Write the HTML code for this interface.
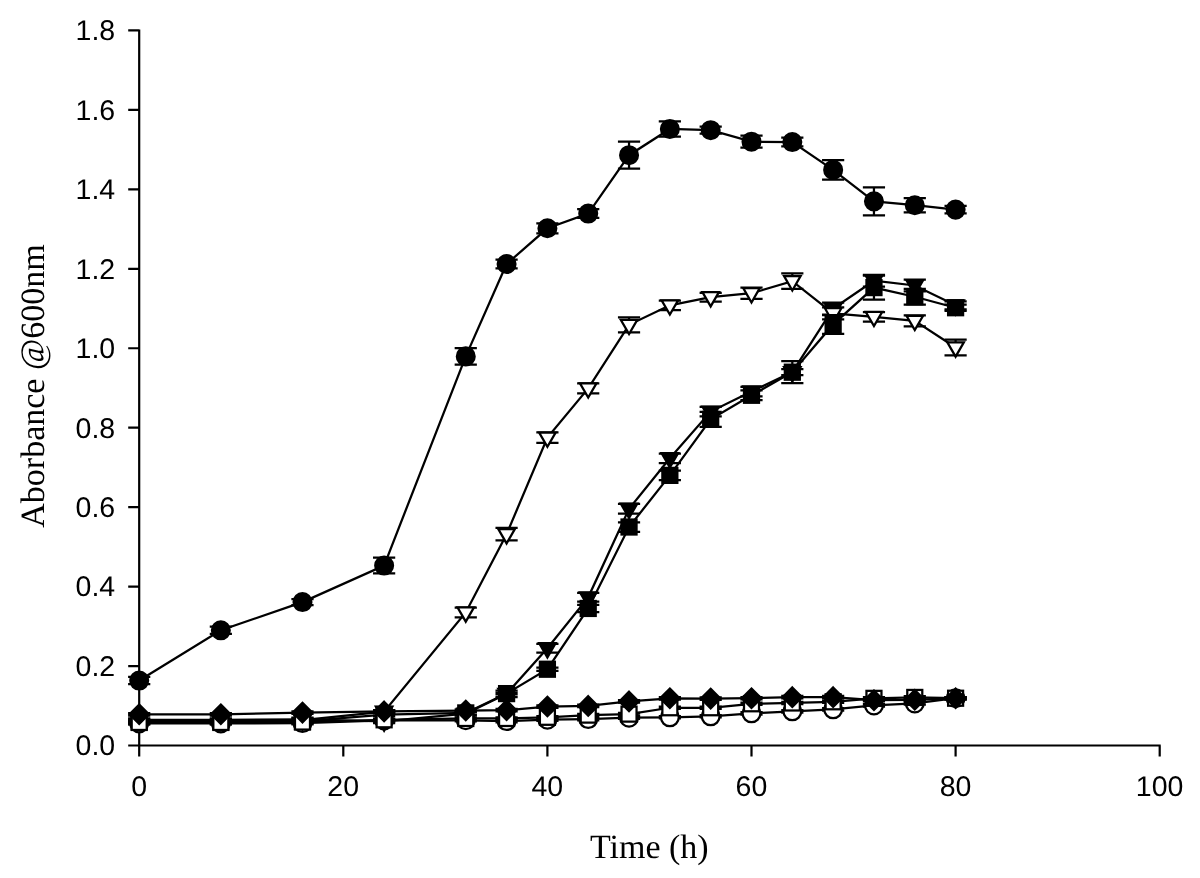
<!DOCTYPE html>
<html><head><meta charset="utf-8"><title>Growth curve</title>
<style>
html,body{margin:0;padding:0;background:#fff;}
body{width:1200px;height:878px;overflow:hidden;}
svg{display:block;}
.tk{font-family:"Liberation Sans",Arial,sans-serif;font-size:28.5px;fill:#000;text-rendering:geometricPrecision;}
.tt{font-family:"Liberation Serif","Times New Roman",serif;font-size:34px;fill:#000;text-rendering:geometricPrecision;}
</style></head><body>
<svg width="1200" height="878" viewBox="0 0 1200 878">
<rect width="1200" height="878" fill="#fff"/>
<g stroke="#000" stroke-width="2.2"><path fill="none" stroke-linecap="butt" d="M139.2 29.45V756.5M128.2 745.5H1160.7M128.2 666.05H139.2M128.2 586.6H139.2M128.2 507.15H139.2M128.2 427.7H139.2M128.2 348.25H139.2M128.2 268.8H139.2M128.2 189.35H139.2M128.2 109.9H139.2M128.2 30.45H139.2M343.3 745.5V756.5M547.4 745.5V756.5M751.5 745.5V756.5M955.6 745.5V756.5M1159.7 745.5V756.5"/></g>
<g stroke="#000" stroke-width="2.25" stroke-linejoin="miter">
<g>
<polyline fill="none" points="139.2,680.55 220.84,630.3 302.48,602.09 384.12,565.55 465.76,356.39 506.58,264.03 547.4,228.28 588.22,213.58 629.04,155.19 669.86,128.97 710.68,130.16 751.5,141.68 792.32,142.08 833.14,169.88 873.96,201.35 914.78,205.24 955.6,209.61"/>
<path fill="none" d="M139.2 676.97V684.12M128.1 676.97H150.3M128.1 684.12H150.3M220.84 626.72V633.87M209.74 626.72H231.94M209.74 633.87H231.94M302.48 599.11V605.07M291.38 599.11H313.58M291.38 605.07H313.58M384.12 557.6V573.49M373.02 557.6H395.22M373.02 573.49H395.22M465.76 348.05V364.74M454.66 348.05H476.86M454.66 364.74H476.86M506.58 259.66V268.4M495.48 259.66H517.68M495.48 268.4H517.68M547.4 223.31V233.25M536.3 223.31H558.5M536.3 233.25H558.5M588.22 209.21V217.95M577.12 209.21H599.32M577.12 217.95H599.32M629.04 141.68V168.69M617.94 141.68H640.14M617.94 168.69H640.14M669.86 121.42V136.52M658.76 121.42H680.96M658.76 136.52H680.96M710.68 126.58V133.74M699.58 126.58H721.78M699.58 133.74H721.78M751.5 135.72V147.64M740.4 135.72H762.6M740.4 147.64H762.6M792.32 137.71V146.45M781.22 137.71H803.42M781.22 146.45H803.42M833.14 160.15V179.62M822.04 160.15H844.24M822.04 179.62H844.24M873.96 187.44V215.25M862.86 187.44H885.06M862.86 215.25H885.06M914.78 198.09V212.39M903.68 198.09H925.88M903.68 212.39H925.88M955.6 205.84V213.38M944.5 205.84H966.7M944.5 213.38H966.7"/>
<circle cx="139.2" cy="680.55" r="8.9" fill="#000"/>
<circle cx="220.84" cy="630.3" r="8.9" fill="#000"/>
<circle cx="302.48" cy="602.09" r="8.9" fill="#000"/>
<circle cx="384.12" cy="565.55" r="8.9" fill="#000"/>
<circle cx="465.76" cy="356.39" r="8.9" fill="#000"/>
<circle cx="506.58" cy="264.03" r="8.9" fill="#000"/>
<circle cx="547.4" cy="228.28" r="8.9" fill="#000"/>
<circle cx="588.22" cy="213.58" r="8.9" fill="#000"/>
<circle cx="629.04" cy="155.19" r="8.9" fill="#000"/>
<circle cx="669.86" cy="128.97" r="8.9" fill="#000"/>
<circle cx="710.68" cy="130.16" r="8.9" fill="#000"/>
<circle cx="751.5" cy="141.68" r="8.9" fill="#000"/>
<circle cx="792.32" cy="142.08" r="8.9" fill="#000"/>
<circle cx="833.14" cy="169.88" r="8.9" fill="#000"/>
<circle cx="873.96" cy="201.35" r="8.9" fill="#000"/>
<circle cx="914.78" cy="205.24" r="8.9" fill="#000"/>
<circle cx="955.6" cy="209.61" r="8.9" fill="#000"/>
</g>
<g>
<polyline fill="none" points="139.2,723.45 220.84,723.45 302.48,723.06 384.12,720.47 465.76,720.27 506.58,721.07 547.4,719.68 588.22,719.08 629.04,717.69 669.86,717.3 710.68,716.3 751.5,713.32 792.32,711.34 833.14,709.35 873.96,705.38 914.78,703.39 955.6,698.23"/>
<path fill="none" d="M139.2 722.26V724.64M128.1 722.26H150.3M128.1 724.64H150.3M220.84 722.26V724.64M209.74 722.26H231.94M209.74 724.64H231.94M302.48 721.86V724.25M291.38 721.86H313.58M291.38 724.25H313.58M384.12 719.28V721.66M373.02 719.28H395.22M373.02 721.66H395.22M465.76 719.08V721.47M454.66 719.08H476.86M454.66 721.47H476.86M506.58 719.88V722.26M495.48 719.88H517.68M495.48 722.26H517.68M547.4 718.49V720.87M536.3 718.49H558.5M536.3 720.87H558.5M588.22 717.89V720.27M577.12 717.89H599.32M577.12 720.27H599.32M629.04 716.5V718.88M617.94 716.5H640.14M617.94 718.88H640.14M669.86 716.1V718.49M658.76 716.1H680.96M658.76 718.49H680.96M710.68 715.11V717.49M699.58 715.11H721.78M699.58 717.49H721.78M751.5 712.13V714.51M740.4 712.13H762.6M740.4 714.51H762.6M792.32 710.14V712.53M781.22 710.14H803.42M781.22 712.53H803.42M833.14 708.16V710.54M822.04 708.16H844.24M822.04 710.54H844.24M873.96 704.19V706.57M862.86 704.19H885.06M862.86 706.57H885.06M914.78 702.2V704.58M903.68 702.2H925.88M903.68 704.58H925.88M955.6 697.04V699.42M944.5 697.04H966.7M944.5 699.42H966.7"/>
<circle cx="139.2" cy="723.45" r="8.9" fill="#fff"/>
<circle cx="220.84" cy="723.45" r="8.9" fill="#fff"/>
<circle cx="302.48" cy="723.06" r="8.9" fill="#fff"/>
<circle cx="384.12" cy="720.47" r="8.9" fill="#fff"/>
<circle cx="465.76" cy="720.27" r="8.9" fill="#fff"/>
<circle cx="506.58" cy="721.07" r="8.9" fill="#fff"/>
<circle cx="547.4" cy="719.68" r="8.9" fill="#fff"/>
<circle cx="588.22" cy="719.08" r="8.9" fill="#fff"/>
<circle cx="629.04" cy="717.69" r="8.9" fill="#fff"/>
<circle cx="669.86" cy="717.3" r="8.9" fill="#fff"/>
<circle cx="710.68" cy="716.3" r="8.9" fill="#fff"/>
<circle cx="751.5" cy="713.32" r="8.9" fill="#fff"/>
<circle cx="792.32" cy="711.34" r="8.9" fill="#fff"/>
<circle cx="833.14" cy="709.35" r="8.9" fill="#fff"/>
<circle cx="873.96" cy="705.38" r="8.9" fill="#fff"/>
<circle cx="914.78" cy="703.39" r="8.9" fill="#fff"/>
<circle cx="955.6" cy="698.23" r="8.9" fill="#fff"/>
</g>
<g>
<polyline fill="none" points="139.2,719.88 220.84,719.88 302.48,719.28 384.12,721.43 465.76,713.72 506.58,693.86 547.4,648.17 588.22,597.33 629.04,508.74 669.86,458.29 710.68,411.61 751.5,391.55 792.32,372.09 833.14,308.64 873.96,280.72 914.78,285.48 955.6,305.35"/>
<path fill="none" d="M139.2 718.29V721.47M128.1 718.29H150.3M128.1 721.47H150.3M220.84 718.29V721.47M209.74 718.29H231.94M209.74 721.47H231.94M302.48 717.69V720.87M291.38 717.69H313.58M291.38 720.87H313.58M384.12 719.84V723.02M373.02 719.84H395.22M373.02 723.02H395.22M465.76 712.13V715.31M454.66 712.13H476.86M454.66 715.31H476.86M506.58 690.68V697.04M495.48 690.68H517.68M495.48 697.04H517.68M547.4 643.8V652.54M536.3 643.8H558.5M536.3 652.54H558.5M588.22 592.96V601.7M577.12 592.96H599.32M577.12 601.7H599.32M629.04 503.97V513.51M617.94 503.97H640.14M617.94 513.51H640.14M669.86 453.52V463.06M658.76 453.52H680.96M658.76 463.06H680.96M710.68 406.84V416.38M699.58 406.84H721.78M699.58 416.38H721.78M751.5 386.78V396.32M740.4 386.78H762.6M740.4 396.32H762.6M792.32 369.03V375.14M781.22 369.03H803.42M781.22 375.14H803.42M833.14 302.69V314.6M822.04 302.69H844.24M822.04 314.6H844.24M873.96 274.76V286.68M862.86 274.76H885.06M862.86 286.68H885.06M914.78 279.53V291.44M903.68 279.53H925.88M903.68 291.44H925.88M955.6 301.37V309.32M944.5 301.37H966.7M944.5 309.32H966.7"/>
<path d="M130.95 714.81L147.45 714.81L139.2 729.1Z" fill="#000"/>
<path d="M212.59 714.81L229.09 714.81L220.84 729.1Z" fill="#000"/>
<path d="M294.23 714.22L310.73 714.22L302.48 728.51Z" fill="#000"/>
<path d="M375.87 716.36L392.37 716.36L384.12 730.65Z" fill="#000"/>
<path d="M457.51 708.66L474.01 708.66L465.76 722.95Z" fill="#000"/>
<path d="M498.33 688.79L514.83 688.79L506.58 703.08Z" fill="#000"/>
<path d="M539.15 643.11L555.65 643.11L547.4 657.4Z" fill="#000"/>
<path d="M579.97 592.26L596.47 592.26L588.22 606.55Z" fill="#000"/>
<path d="M620.79 503.68L637.29 503.68L629.04 517.97Z" fill="#000"/>
<path d="M661.61 453.23L678.11 453.23L669.86 467.51Z" fill="#000"/>
<path d="M702.43 406.55L718.93 406.55L710.68 420.84Z" fill="#000"/>
<path d="M743.25 386.49L759.75 386.49L751.5 400.78Z" fill="#000"/>
<path d="M784.07 367.02L800.57 367.02L792.32 381.31Z" fill="#000"/>
<path d="M824.89 303.58L841.39 303.58L833.14 317.87Z" fill="#000"/>
<path d="M865.71 275.65L882.21 275.65L873.96 289.94Z" fill="#000"/>
<path d="M906.53 280.42L923.03 280.42L914.78 294.71Z" fill="#000"/>
<path d="M947.35 300.28L963.85 300.28L955.6 314.57Z" fill="#000"/>
</g>
<g>
<polyline fill="none" points="139.2,720.87 220.84,720.87 302.48,720.08 384.12,711.73 465.76,612.42 506.58,534.16 547.4,437.63 588.22,388.37 629.04,324.81 669.86,305.35 710.68,297.2 751.5,293.23 792.32,281.23 833.14,313.29 873.96,316.87 914.78,320.84 955.6,347.46"/>
<path fill="none" d="M139.2 719.28V722.46M128.1 719.28H150.3M128.1 722.46H150.3M220.84 719.28V722.46M209.74 719.28H231.94M209.74 722.46H231.94M302.48 718.49V721.67M291.38 718.49H313.58M291.38 721.67H313.58M384.12 710.14V713.32M373.02 710.14H395.22M373.02 713.32H395.22M465.76 607.54V617.31M454.66 607.54H476.86M454.66 617.31H476.86M506.58 527.93V540.4M495.48 527.93H517.68M495.48 540.4H517.68M547.4 432.39V442.87M536.3 432.39H558.5M536.3 442.87H558.5M588.22 383.45V393.3M577.12 383.45H599.32M577.12 393.3H599.32M629.04 317.26V332.36M617.94 317.26H640.14M617.94 332.36H640.14M669.86 300.58V310.11M658.76 300.58H680.96M658.76 310.11H680.96M710.68 292.83V301.57M699.58 292.83H721.78M699.58 301.57H721.78M751.5 287.67V298.79M740.4 287.67H762.6M740.4 298.79H762.6M792.32 273.49V288.98M781.22 273.49H803.42M781.22 288.98H803.42M833.14 307.33V319.25M822.04 307.33H844.24M822.04 319.25H844.24M873.96 312.1V321.63M862.86 312.1H885.06M862.86 321.63H885.06M914.78 315.28V326.4M903.68 315.28H925.88M903.68 326.4H925.88M955.6 339.51V355.4M944.5 339.51H966.7M944.5 355.4H966.7"/>
<path d="M130.95 715.81L147.45 715.81L139.2 730.1Z" fill="#fff"/>
<path d="M212.59 715.81L229.09 715.81L220.84 730.1Z" fill="#fff"/>
<path d="M294.23 715.01L310.73 715.01L302.48 729.3Z" fill="#fff"/>
<path d="M375.87 706.67L392.37 706.67L384.12 720.96Z" fill="#fff"/>
<path d="M457.51 607.36L474.01 607.36L465.76 621.65Z" fill="#fff"/>
<path d="M498.33 529.1L514.83 529.1L506.58 543.39Z" fill="#fff"/>
<path d="M539.15 432.57L555.65 432.57L547.4 446.86Z" fill="#fff"/>
<path d="M579.97 383.31L596.47 383.31L588.22 397.6Z" fill="#fff"/>
<path d="M620.79 319.75L637.29 319.75L629.04 334.04Z" fill="#fff"/>
<path d="M661.61 300.28L678.11 300.28L669.86 314.57Z" fill="#fff"/>
<path d="M702.43 292.14L718.93 292.14L710.68 306.43Z" fill="#fff"/>
<path d="M743.25 288.17L759.75 288.17L751.5 302.46Z" fill="#fff"/>
<path d="M784.07 276.17L800.57 276.17L792.32 290.46Z" fill="#fff"/>
<path d="M824.89 308.23L841.39 308.23L833.14 322.52Z" fill="#fff"/>
<path d="M865.71 311.8L882.21 311.8L873.96 326.09Z" fill="#fff"/>
<path d="M906.53 315.78L923.03 315.78L914.78 330.07Z" fill="#fff"/>
<path d="M947.35 342.39L963.85 342.39L955.6 356.68Z" fill="#fff"/>
</g>
<g>
<polyline fill="none" points="139.2,721.86 220.84,721.86 302.48,721.47 384.12,714.51 465.76,712.93 506.58,693.62 547.4,669.23 588.22,608.45 629.04,527.01 669.86,475.37 710.68,419.36 751.5,395.28 792.32,372.2 833.14,324.41 873.96,287.59 914.78,296.73 955.6,307.73"/>
<path fill="none" d="M139.2 720.27V723.45M128.1 720.27H150.3M128.1 723.45H150.3M220.84 720.27V723.45M209.74 720.27H231.94M209.74 723.45H231.94M302.48 719.88V723.06M291.38 719.88H313.58M291.38 723.06H313.58M384.12 712.93V716.1M373.02 712.93H395.22M373.02 716.1H395.22M465.76 711.34V714.51M454.66 711.34H476.86M454.66 714.51H476.86M506.58 692.82V694.41M495.48 692.82H517.68M495.48 694.41H517.68M547.4 667.64V670.82M536.3 667.64H558.5M536.3 670.82H558.5M588.22 604.87V612.02M577.12 604.87H599.32M577.12 612.02H599.32M629.04 522.25V531.78M617.94 522.25H640.14M617.94 531.78H640.14M669.86 470.6V480.14M658.76 470.6H680.96M658.76 480.14H680.96M710.68 411.93V426.79M699.58 411.93H721.78M699.58 426.79H721.78M751.5 390.36V400.21M740.4 390.36H762.6M740.4 400.21H762.6M792.32 361.2V383.21M781.22 361.2H803.42M781.22 383.21H803.42M833.14 315.08V333.75M822.04 315.08H844.24M822.04 333.75H844.24M873.96 275.67V299.51M862.86 275.67H885.06M862.86 299.51H885.06M914.78 288.78V304.67M903.68 288.78H925.88M903.68 304.67H925.88M955.6 304.55V310.91M944.5 304.55H966.7M944.5 310.91H966.7"/>
<rect x="131.7" y="714.36" width="15" height="15" fill="#000"/>
<rect x="213.34" y="714.36" width="15" height="15" fill="#000"/>
<rect x="294.98" y="713.97" width="15" height="15" fill="#000"/>
<rect x="376.62" y="707.01" width="15" height="15" fill="#000"/>
<rect x="458.26" y="705.43" width="15" height="15" fill="#000"/>
<rect x="499.08" y="686.12" width="15" height="15" fill="#000"/>
<rect x="539.9" y="661.73" width="15" height="15" fill="#000"/>
<rect x="580.72" y="600.95" width="15" height="15" fill="#000"/>
<rect x="621.54" y="519.51" width="15" height="15" fill="#000"/>
<rect x="662.36" y="467.87" width="15" height="15" fill="#000"/>
<rect x="703.18" y="411.86" width="15" height="15" fill="#000"/>
<rect x="744" y="387.78" width="15" height="15" fill="#000"/>
<rect x="784.82" y="364.7" width="15" height="15" fill="#000"/>
<rect x="825.64" y="316.91" width="15" height="15" fill="#000"/>
<rect x="866.46" y="280.09" width="15" height="15" fill="#000"/>
<rect x="907.28" y="289.23" width="15" height="15" fill="#000"/>
<rect x="948.1" y="300.23" width="15" height="15" fill="#000"/>
</g>
<g>
<polyline fill="none" points="139.2,722.46 220.84,722.46 302.48,722.06 384.12,719.8 465.76,718.49 506.58,718.49 547.4,717.3 588.22,715.11 629.04,714.12 669.86,707.76 710.68,707.76 751.5,703.79 792.32,702.99 833.14,701.8 873.96,698.35 914.78,697.43 955.6,698.23"/>
<path fill="none" d="M139.2 721.27V723.65M128.1 721.27H150.3M128.1 723.65H150.3M220.84 721.27V723.65M209.74 721.27H231.94M209.74 723.65H231.94M302.48 720.87V723.25M291.38 720.87H313.58M291.38 723.25H313.58M384.12 718.61V720.99M373.02 718.61H395.22M373.02 720.99H395.22M465.76 717.3V719.68M454.66 717.3H476.86M454.66 719.68H476.86M506.58 717.3V719.68M495.48 717.3H517.68M495.48 719.68H517.68M547.4 716.1V718.49M536.3 716.1H558.5M536.3 718.49H558.5M588.22 713.92V716.3M577.12 713.92H599.32M577.12 716.3H599.32M629.04 712.93V715.31M617.94 712.93H640.14M617.94 715.31H640.14M669.86 706.57V708.95M658.76 706.57H680.96M658.76 708.95H680.96M710.68 706.57V708.95M699.58 706.57H721.78M699.58 708.95H721.78M751.5 702.6V704.98M740.4 702.6H762.6M740.4 704.98H762.6M792.32 701.8V704.19M781.22 701.8H803.42M781.22 704.19H803.42M833.14 700.61V702.99M822.04 700.61H844.24M822.04 702.99H844.24M873.96 697.15V699.54M862.86 697.15H885.06M862.86 699.54H885.06M914.78 696.24V698.62M903.68 696.24H925.88M903.68 698.62H925.88M955.6 697.04V699.42M944.5 697.04H966.7M944.5 699.42H966.7"/>
<rect x="131.7" y="714.96" width="15" height="15" fill="#fff"/>
<rect x="213.34" y="714.96" width="15" height="15" fill="#fff"/>
<rect x="294.98" y="714.56" width="15" height="15" fill="#fff"/>
<rect x="376.62" y="712.3" width="15" height="15" fill="#fff"/>
<rect x="458.26" y="710.99" width="15" height="15" fill="#fff"/>
<rect x="499.08" y="710.99" width="15" height="15" fill="#fff"/>
<rect x="539.9" y="709.8" width="15" height="15" fill="#fff"/>
<rect x="580.72" y="707.61" width="15" height="15" fill="#fff"/>
<rect x="621.54" y="706.62" width="15" height="15" fill="#fff"/>
<rect x="662.36" y="700.26" width="15" height="15" fill="#fff"/>
<rect x="703.18" y="700.26" width="15" height="15" fill="#fff"/>
<rect x="744" y="696.29" width="15" height="15" fill="#fff"/>
<rect x="784.82" y="695.49" width="15" height="15" fill="#fff"/>
<rect x="825.64" y="694.3" width="15" height="15" fill="#fff"/>
<rect x="866.46" y="690.85" width="15" height="15" fill="#fff"/>
<rect x="907.28" y="689.93" width="15" height="15" fill="#fff"/>
<rect x="948.1" y="690.73" width="15" height="15" fill="#fff"/>
</g>
<g>
<polyline fill="none" points="139.2,714.32 220.84,714.32 302.48,712.61 384.12,711.38 465.76,710.54 506.58,710.14 547.4,706.57 588.22,705.89 629.04,701.41 669.86,698.31 710.68,698.62 751.5,698.23 792.32,697.15 833.14,697.15 873.96,700.21 914.78,699.82 955.6,698.23"/>
<path fill="none" d="M139.2 713.12V715.51M128.1 713.12H150.3M128.1 715.51H150.3M220.84 713.12V715.51M209.74 713.12H231.94M209.74 715.51H231.94M302.48 711.42V713.8M291.38 711.42H313.58M291.38 713.8H313.58M384.12 710.18V712.57M373.02 710.18H395.22M373.02 712.57H395.22M465.76 709.35V711.73M454.66 709.35H476.86M454.66 711.73H476.86M506.58 708.95V711.34M495.48 708.95H517.68M495.48 711.34H517.68M547.4 705.38V707.76M536.3 705.38H558.5M536.3 707.76H558.5M588.22 704.7V707.09M577.12 704.7H599.32M577.12 707.09H599.32M629.04 700.21V702.6M617.94 700.21H640.14M617.94 702.6H640.14M669.86 697.11V699.5M658.76 697.11H680.96M658.76 699.5H680.96M710.68 697.43V699.82M699.58 697.43H721.78M699.58 699.82H721.78M751.5 697.04V699.42M740.4 697.04H762.6M740.4 699.42H762.6M792.32 695.96V698.35M781.22 695.96H803.42M781.22 698.35H803.42M833.14 695.96V698.35M822.04 695.96H844.24M822.04 698.35H844.24M873.96 699.02V701.41M862.86 699.02H885.06M862.86 701.41H885.06M914.78 698.62V701.01M903.68 698.62H925.88M903.68 701.01H925.88M955.6 697.04V699.42M944.5 697.04H966.7M944.5 699.42H966.7"/>
<path d="M139.2 704.62L148.9 714.32L139.2 724.02L129.5 714.32Z" fill="#000"/>
<path d="M220.84 704.62L230.54 714.32L220.84 724.02L211.14 714.32Z" fill="#000"/>
<path d="M302.48 702.91L312.18 712.61L302.48 722.31L292.78 712.61Z" fill="#000"/>
<path d="M384.12 701.68L393.82 711.38L384.12 721.08L374.42 711.38Z" fill="#000"/>
<path d="M465.76 700.84L475.46 710.54L465.76 720.24L456.06 710.54Z" fill="#000"/>
<path d="M506.58 700.44L516.28 710.14L506.58 719.84L496.88 710.14Z" fill="#000"/>
<path d="M547.4 696.87L557.1 706.57L547.4 716.27L537.7 706.57Z" fill="#000"/>
<path d="M588.22 696.19L597.92 705.89L588.22 715.59L578.52 705.89Z" fill="#000"/>
<path d="M629.04 691.71L638.74 701.41L629.04 711.11L619.34 701.41Z" fill="#000"/>
<path d="M669.86 688.61L679.56 698.31L669.86 708.01L660.16 698.31Z" fill="#000"/>
<path d="M710.68 688.92L720.38 698.62L710.68 708.32L700.98 698.62Z" fill="#000"/>
<path d="M751.5 688.53L761.2 698.23L751.5 707.93L741.8 698.23Z" fill="#000"/>
<path d="M792.32 687.45L802.02 697.15L792.32 706.85L782.62 697.15Z" fill="#000"/>
<path d="M833.14 687.45L842.84 697.15L833.14 706.85L823.44 697.15Z" fill="#000"/>
<path d="M873.96 690.51L883.66 700.21L873.96 709.91L864.26 700.21Z" fill="#000"/>
<path d="M914.78 690.12L924.48 699.82L914.78 709.52L905.08 699.82Z" fill="#000"/>
<path d="M955.6 688.53L965.3 698.23L955.6 707.93L945.9 698.23Z" fill="#000"/>
</g>
</g>
<g class="tk">
<text x="115.2" y="755.3" text-anchor="end">0.0</text>
<text x="115.2" y="675.85" text-anchor="end">0.2</text>
<text x="115.2" y="596.4" text-anchor="end">0.4</text>
<text x="115.2" y="516.95" text-anchor="end">0.6</text>
<text x="115.2" y="437.5" text-anchor="end">0.8</text>
<text x="115.2" y="358.05" text-anchor="end">1.0</text>
<text x="115.2" y="278.6" text-anchor="end">1.2</text>
<text x="115.2" y="199.15" text-anchor="end">1.4</text>
<text x="115.2" y="119.7" text-anchor="end">1.6</text>
<text x="115.2" y="40.25" text-anchor="end">1.8</text>
<text x="139.1" y="795.5" text-anchor="middle">0</text>
<text x="343.2" y="795.5" text-anchor="middle">20</text>
<text x="547.3" y="795.5" text-anchor="middle">40</text>
<text x="751.4" y="795.5" text-anchor="middle">60</text>
<text x="955.5" y="795.5" text-anchor="middle">80</text>
<text x="1159.6" y="795.5" text-anchor="middle">100</text>
</g>
<text class="tt" x="649.3" y="857.8" text-anchor="middle">Time (h)</text>
<text class="tt" transform="translate(44.1 386) rotate(-90)" text-anchor="middle">Aborbance @600nm</text>
</svg>
</body></html>
